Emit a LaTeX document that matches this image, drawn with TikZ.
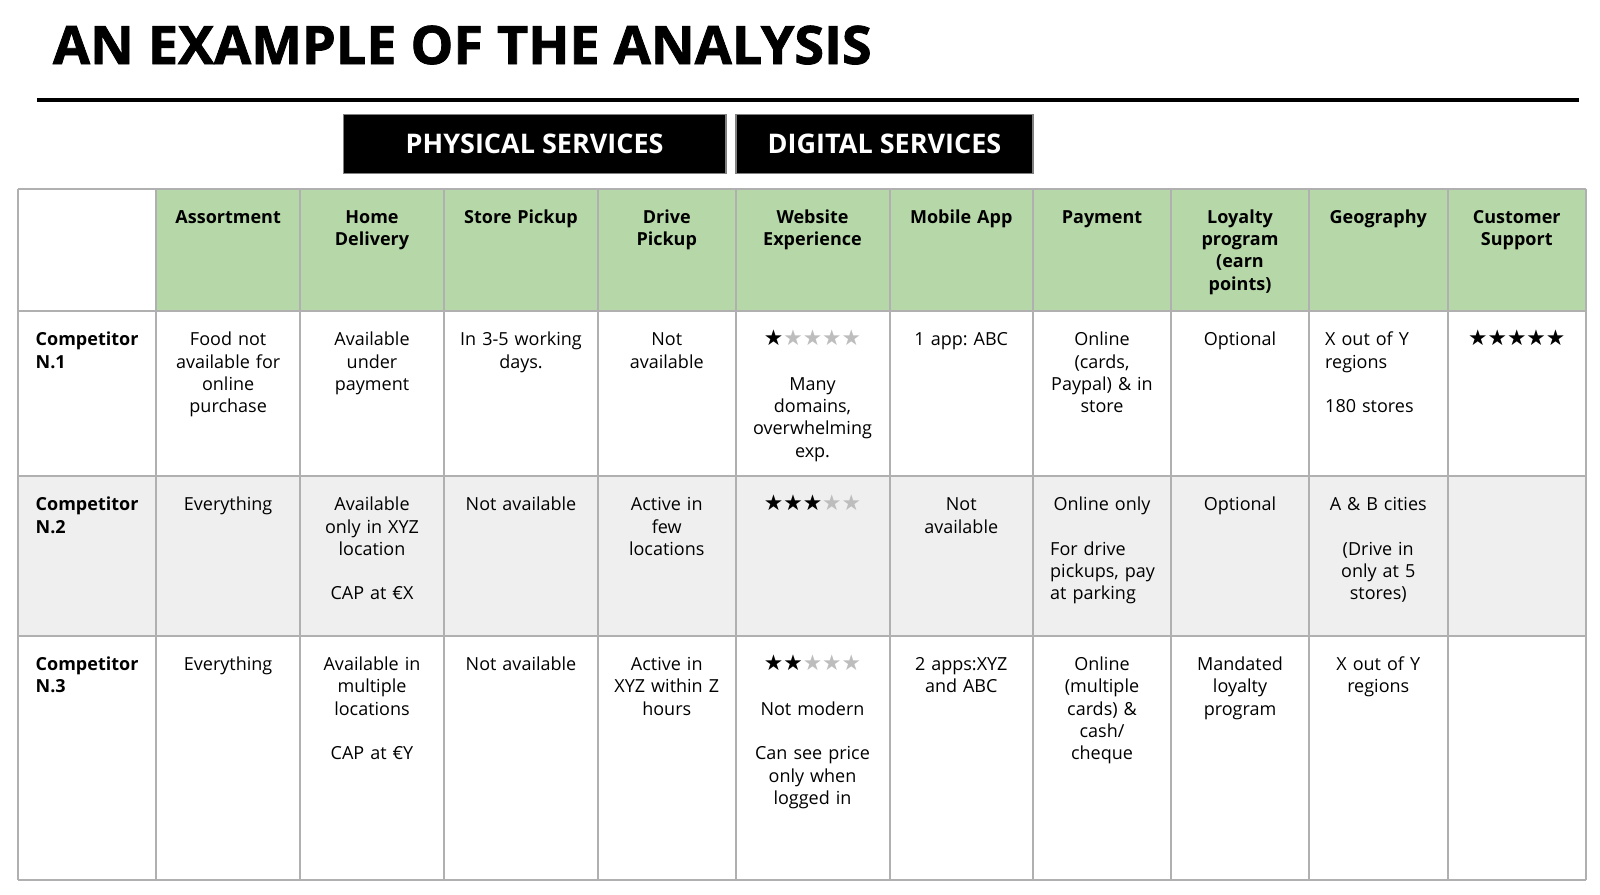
\documentclass[tikz,border=0pt]{standalone}
\usepackage{fontspec}
\setmainfont{Open Sans}
\newfontfamily\starfont{DejaVu Sans}
\usetikzlibrary{positioning}
\frenchspacing

\definecolor{headgreen}{HTML}{B6D7A8}
\definecolor{rowgray}{HTML}{EFEFEF}
\definecolor{gridgray}{HTML}{B0B0B0}
\definecolor{stargray}{HTML}{BDBDBD}

\newcommand\cellfont{\fontsize{18pt}{22.3pt}\selectfont}
\newcommand\rating[1]{{\starfont\fontsize{21.7pt}{22.3pt}\selectfont
  \ifcase#1\or ★\textcolor{stargray}{★★★★}\or ★★\textcolor{stargray}{★★★}%
  \or ★★★\textcolor{stargray}{★★}\or ★★★★\textcolor{stargray}{★}\or ★★★★★\fi}}

\tikzset{
  cell/.style={anchor=base, inner sep=0pt, text width=200pt, align=center, font=\cellfont},
  leftcell/.style={anchor=base west, inner sep=0pt, text width=#1, align=left, font=\cellfont},
  headcell/.style={cell, font=\cellfont\bfseries},
  groupbox/.style={fill=black, draw=gray, line width=1.2pt, text=white, inner sep=0pt,
    font=\fontsize{27pt}{30pt}\selectfont\bfseries},
  gridline/.style={draw=gridgray, line width=2pt},
}

\begin{document}
\begin{tikzpicture}[x=1pt, y=-1pt]
    \useasboundingbox (0,0) rectangle (1600,894);
    % title
    \node[anchor=base west, inner sep=0pt, font=\fontsize{53pt}{60pt}\selectfont\bfseries\addfontfeature{FakeBold=1.5}] (title) at (52.7,64) {\scalebox{1.017}[1]{AN EXAMPLE OF THE ANALYSIS}};
    \draw[line width=4pt] (37,100) -- (1579,100);
    \node[groupbox, minimum width=382.7pt, minimum height=59pt] (physical) at (534.65,143.8) {PHYSICAL SERVICES};
    \node[groupbox, minimum width=297pt, minimum height=59pt] (digital) at (884.5,143.8) {DIGITAL SERVICES};
    % table
    \fill[headgreen] (156.3,189) rectangle (1586,311);
    \fill[rowgray] (18.3,476) rectangle (1586,635.5);
    \foreach \x in {18.3,156.3,300,444,598,735.5,889.5,1033,1171,1309,1447.5,1586}
        \draw[gridline] (\x,189) -- (\x,880);
    \foreach \y in {189,311,476,635.5,880}
        \draw[gridline] (18.3,\y) -- (1586,\y);
    % header
    \foreach \x/\n/\t in {228.15/h1/Assortment, 372/h2/{Home\\Delivery}, 521/h3/Store Pickup,
        666.75/h4/{Drive\\Pickup}, 812.5/h5/{Website\\Experience}, 961.25/h6/Mobile App,
        1102/h7/Payment, 1240/h8/{Loyalty\\program\\(earn\\points)}, 1378.25/h9/Geography,
        1516.75/h10/{Customer\\Support}}
        \node[headcell] (\n) at (\x,223.3) {\t};
    % competitor 1
    \node[leftcell=120pt, font=\cellfont\bfseries] (r1c0) at (35.5,345.7) {Competitor\\N.1};
    \node[cell] (r1c1) at (228.15,345.7) {Food not\\available for\\online\\purchase};
    \node[cell] (r1c2) at (372,345.7) {Available\\under\\payment};
    \node[cell] (r1c3) at (521,345.7) {In 3-5 working\\days.};
    \node[cell] (r1c4) at (666.75,345.7) {Not\\available};
    \node[cell] (r1c5) at (812.5,345.7) {\rating{1}\\[22.3pt]Many\\domains,\\overwhelming\\exp.};
    \node[cell] (r1c6) at (961.25,345.7) {1 app: ABC};
    \node[cell] (r1c7) at (1102,345.7) {Online\\(cards,\\Paypal) \& in\\store};
    \node[cell] (r1c8) at (1240,345.7) {Optional};
    \node[leftcell=120pt] (r1c9) at (1325,345.7) {X out of Y\\regions\\[22.3pt]180 stores};
    \node[cell] (r1c10) at (1516.75,345.7) {\rating{5}};
    % competitor 2
    \node[leftcell=120pt, font=\cellfont\bfseries] (r2c0) at (35.5,510.7) {Competitor\\N.2};
    \node[cell] (r2c1) at (228.15,510.7) {Everything};
    \node[cell] (r2c2) at (372,510.7) {Available\\only in XYZ\\location\\[22.3pt]CAP at €X};
    \node[cell] (r2c3) at (521,510.7) {Not available};
    \node[cell] (r2c4) at (666.75,510.7) {Active in\\few\\locations};
    \node[cell] (r2c5) at (812.5,510.7) {\rating{3}};
    \node[cell] (r2c6) at (961.25,510.7) {Not\\available};
    \node[cell] (r2c7) at (1102,510.7) {Online only};
    \node[leftcell=120pt] (r2c7b) at (1050,555.3) {For drive\\pickups, pay\\at parking};
    \node[cell] (r2c8) at (1240,510.7) {Optional};
    \node[cell] (r2c9) at (1378.25,510.7) {A \& B cities\\[22.3pt](Drive in\\only at 5\\stores)};
    % competitor 3
    \node[leftcell=120pt, font=\cellfont\bfseries] (r3c0) at (35.5,670.5) {Competitor\\N.3};
    \node[cell] (r3c1) at (228.15,670.5) {Everything};
    \node[cell] (r3c2) at (372,670.5) {Available in\\multiple\\locations\\[22.3pt]CAP at €Y};
    \node[cell] (r3c3) at (521,670.5) {Not available};
    \node[cell] (r3c4) at (666.75,670.5) {Active in\\XYZ within Z\\hours};
    \node[cell] (r3c5) at (812.5,670.5) {\rating{2}\\[22.3pt]Not modern\\[22.3pt]Can see price\\only when\\logged in};
    \node[cell] (r3c6) at (961.25,670.5) {2 apps:XYZ\\and ABC};
    \node[cell] (r3c7) at (1102,670.5) {Online\\(multiple\\cards) \&\\cash/\\cheque};
    \node[cell] (r3c8) at (1240,670.5) {Mandated\\loyalty\\program};
    \node[cell] (r3c9) at (1378.25,670.5) {X out of Y\\regions};
\end{tikzpicture}
\end{document}
